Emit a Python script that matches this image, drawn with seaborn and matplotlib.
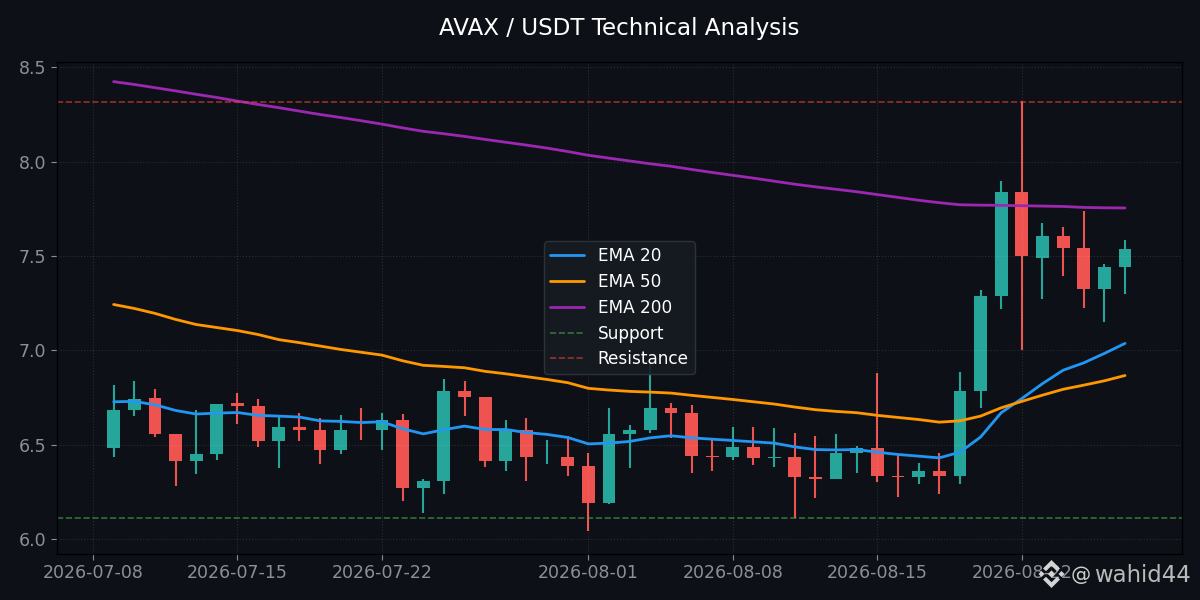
import numpy as np
import pandas as pd
import seaborn as sns
import matplotlib.pyplot as plt
import matplotlib.dates as mdates
from matplotlib.patches import Polygon

# daily candles
dates = pd.date_range("2026-07-09", periods=50, freq="D")
opens = [6.481, 6.682, 6.746, 6.555, 6.412, 6.454, 6.719, 6.703, 6.518, 6.592,
         6.576, 6.470, 6.581, 6.576, 6.629, 6.274, 6.306, 6.783, 6.751, 6.412,
         6.581, 6.438, 6.438, 6.390, 6.194, 6.555, 6.576, 6.693, 6.666, 6.443,
         6.438, 6.486, 6.428, 6.438, 6.327, 6.321, 6.459, 6.481, 6.337, 6.332,
         6.359, 6.337, 6.783, 7.289, 7.837, 7.491, 7.608, 7.544, 7.326, 7.443]
closes = [6.682, 6.740, 6.555, 6.412, 6.454, 6.714, 6.703, 6.518, 6.597, 6.576,
          6.470, 6.581, 6.576, 6.629, 6.274, 6.306, 6.783, 6.751, 6.412, 6.581,
          6.438, 6.438, 6.390, 6.194, 6.555, 6.581, 6.693, 6.666, 6.443, 6.438,
          6.486, 6.428, 6.438, 6.327, 6.321, 6.459, 6.481, 6.337, 6.332, 6.359,
          6.337, 6.783, 7.289, 7.837, 7.500, 7.608, 7.544, 7.326, 7.443, 7.539]
highs = [6.815, 6.836, 6.793, 6.555, 6.687, 6.714, 6.777, 6.740, 6.650, 6.666,
         6.640, 6.656, 6.693, 6.666, 6.661, 6.321, 6.846, 6.836, 6.751, 6.634,
         6.640, 6.528, 6.549, 6.459, 6.693, 6.603, 6.943, 6.724, 6.709, 6.523,
         6.597, 6.597, 6.587, 6.560, 6.549, 6.555, 6.496, 6.878, 6.450, 6.406,
         6.459, 6.884, 7.321, 7.895, 8.321, 7.677, 7.651, 7.736, 7.459, 7.582]
lows = [6.433, 6.650, 6.544, 6.284, 6.343, 6.422, 6.608, 6.486, 6.375, 6.518,
        6.396, 6.449, 6.528, 6.470, 6.200, 6.141, 6.237, 6.650, 6.380, 6.364,
        6.311, 6.396, 6.337, 6.046, 6.189, 6.375, 6.565, 6.534, 6.353, 6.364,
        6.422, 6.391, 6.380, 6.115, 6.216, 6.321, 6.353, 6.305, 6.226, 6.295,
        6.242, 6.295, 6.694, 7.220, 7.002, 7.273, 7.395, 7.225, 7.151, 7.300]

ema20 = [6.728, 6.730, 6.712, 6.682, 6.663, 6.668, 6.671, 6.656, 6.652, 6.647,
         6.627, 6.624, 6.618, 6.622, 6.585, 6.558, 6.580, 6.599, 6.581, 6.581,
         6.565, 6.555, 6.539, 6.505, 6.509, 6.518, 6.537, 6.548, 6.537, 6.530,
         6.523, 6.516, 6.509, 6.489, 6.475, 6.473, 6.475, 6.461, 6.449, 6.440,
         6.431, 6.461, 6.541, 6.670, 6.745, 6.824, 6.895, 6.934, 6.984, 7.037]
ema50 = [7.243, 7.222, 7.196, 7.164, 7.137, 7.121, 7.105, 7.084, 7.057, 7.041,
         7.023, 7.005, 6.990, 6.975, 6.945, 6.921, 6.915, 6.908, 6.889, 6.876,
         6.861, 6.846, 6.829, 6.799, 6.790, 6.783, 6.779, 6.774, 6.762, 6.751,
         6.740, 6.728, 6.716, 6.700, 6.686, 6.677, 6.670, 6.656, 6.645, 6.634,
         6.620, 6.627, 6.652, 6.696, 6.730, 6.763, 6.794, 6.816, 6.839, 6.867]
ema200 = [8.423, 8.408, 8.391, 8.374, 8.356, 8.339, 8.320, 8.302, 8.285, 8.267,
          8.249, 8.233, 8.216, 8.198, 8.178, 8.160, 8.147, 8.133, 8.117, 8.102,
          8.087, 8.071, 8.053, 8.033, 8.018, 8.003, 7.988, 7.975, 7.958, 7.942,
          7.927, 7.912, 7.896, 7.880, 7.866, 7.853, 7.840, 7.825, 7.810, 7.795,
          7.782, 7.771, 7.769, 7.768, 7.766, 7.764, 7.762, 7.757, 7.755, 7.754]
support = 6.114
resistance = 8.317

BG = "#0d1117"
UP = "#26a69a"
DOWN = "#ef5350"
TICKS = "#8b8f98"

sns.set_theme(style="dark", rc={
    "figure.facecolor": BG, "axes.facecolor": BG, "axes.axisbelow": "line",
    "axes.edgecolor": "#000000", "savefig.facecolor": BG,
})
plt.rcParams["font.family"] = ["DejaVu Sans"]

df = pd.DataFrame({"date": dates, "open": opens, "close": closes, "high": highs, "low": lows,
                   "ema20": ema20, "ema50": ema50, "ema200": ema200})
colors = [UP if c >= o else DOWN for o, c in zip(df.open, df.close)]

fig, ax = plt.subplots(figsize=(12, 6), dpi=100)
fig.subplots_adjust(left=0.0475, right=0.985, top=0.897, bottom=0.077)

# candles
ax.vlines(df.date, df.low, df.high, colors=colors, linewidth=1.5, zorder=1.2)
bottoms = np.minimum(df.open, df.close)
heights = np.abs(df.close - df.open)
ax.bar(df.date, heights, bottom=bottoms, width=0.62, color=colors, linewidth=0, zorder=1.1)

sns.lineplot(data=df, x="date", y="ema20", ax=ax, color="#2196f3", linewidth=2, label="EMA 20")
sns.lineplot(data=df, x="date", y="ema50", ax=ax, color="#ff9800", linewidth=2, label="EMA 50")
sns.lineplot(data=df, x="date", y="ema200", ax=ax, color="#9c27b0", linewidth=2, label="EMA 200")
ax.axhline(support, color="#4caf50", linestyle="--", linewidth=1.2, alpha=0.6, label="Support")
ax.axhline(resistance, color="#f44336", linestyle="--", linewidth=1.2, alpha=0.6, label="Resistance")

ax.set_xlim(mdates.date2num(pd.Timestamp("2026-07-08")) - 1.744,
            mdates.date2num(pd.Timestamp("2026-07-08")) + 52.76)
ax.set_ylim(5.923, 8.528)
ax.set_xlabel("")
ax.set_ylabel("")
ax.xaxis.set_major_locator(mdates.DayLocator(bymonthday=[1, 8, 15, 22]))
ax.xaxis.set_major_formatter(mdates.DateFormatter("%Y-%m-%d"))
ax.set_yticks([6.0, 6.5, 7.0, 7.5, 8.0, 8.5])
ax.tick_params(axis="both", colors=TICKS, labelsize=12.5, length=4, width=0.8, bottom=True, left=True)
ax.grid(True, color="#ffffff", alpha=0.12, linestyle=":", linewidth=0.8)
for s in ax.spines.values():
    s.set_color("#000000")
    s.set_linewidth(1)

ax.set_title("AVAX / USDT Technical Analysis", color="white", fontsize=16.6, pad=19)

leg = ax.legend(loc="center", fontsize=12.2, facecolor="#161b22", edgecolor="#30363d",
                framealpha=0.9, labelcolor="white", labelspacing=0.46, borderpad=0.36)

# watermark: binance mark plus handle, placed in pixels
def logo_poly(cx, cy, pts):
    px = [((cx + x) / 1200, 1 - (cy + y) / 600) for x, y in pts]
    fig.patches.append(Polygon(px, closed=True, transform=fig.transFigure, facecolor="#d4d4d4",
                               edgecolor="none", zorder=10))

lx, ly = 1051.5, 574
logo_poly(lx, ly, [(0, -3.6), (3.6, 0), (0, 3.6), (-3.6, 0)])
logo_poly(lx - 10, ly, [(0, -3), (3, 0), (0, 3), (-3, 0)])
logo_poly(lx + 10, ly, [(0, -3), (3, 0), (0, 3), (-3, 0)])
logo_poly(lx, ly, [(0, -14), (8.5, -5.5), (5.5, -2.8), (0, -8.2), (-5.5, -2.8), (-8.5, -5.5)])
logo_poly(lx, ly, [(0, 14), (8.5, 5.5), (5.5, 2.8), (0, 8.2), (-5.5, 2.8), (-8.5, 5.5)])
fig.text(1191 / 1200, 1 - 575 / 600, "wahid44", color="#d8d8d8", alpha=0.85, fontsize=16.4,
         ha="right", va="center", zorder=10)
fig.text(1091 / 1200, 1 - 575 / 600, "@", color="#d8d8d8", alpha=0.95, fontsize=14.5,
         ha="right", va="center", zorder=10)

fig.savefig("out.png", dpi=100)
